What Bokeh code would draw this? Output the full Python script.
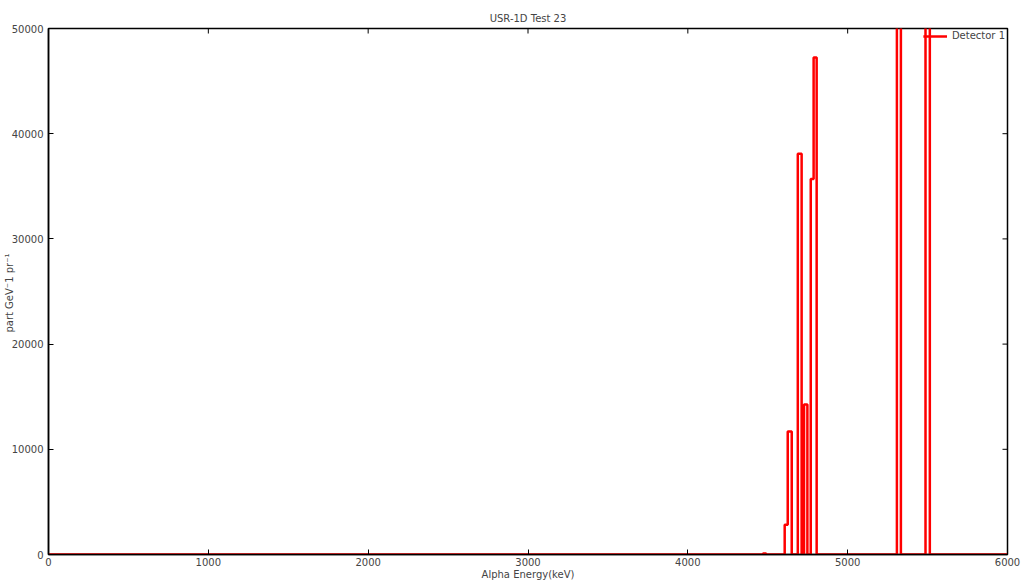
from bokeh.plotting import figure
from bokeh.models import Range1d, FixedTicker
from bokeh.embed import file_html
from bokeh.resources import INLINE

# Histogram (step) data: bin start edges (keV) and counts
bin_edges = [0, 4470, 4490, 4606, 4625, 4650, 4688, 4712, 4727, 4748, 4769, 4787, 4806,
             5308, 5333, 5487, 5514, 6000]
bin_values = [0, 100, 0, 2820, 11700, 0, 38100, 0, 14250, 0, 35700, 47250, 0,
              56000, 0, 56000, 0, 0]

x_ticks = [0, 1000, 2000, 3000, 4000, 5000, 6000]
y_ticks = [0, 10000, 20000, 30000, 40000, 50000]

title_text = "USR-1D Test 23"
x_label = "Alpha Energy(keV)"
y_label = "part GeV\u207b1  pr\u207b\u00b9"
series_name = "Detector 1"

X0, X1 = 0, 6000
Y0, Y1 = 0, 50000

FONT = "DejaVu Sans"
FS = "10px"

p = figure(width=1024, height=584, output_backend="svg", toolbar_location=None,
           x_range=Range1d(X0, X1), y_range=Range1d(Y0, Y1),
           min_border_left=47, min_border_right=17, min_border_top=28, min_border_bottom=30)

p.title.text = title_text
p.title.align = "center"
p.title.text_font = FONT
p.title.text_font_size = FS
p.title.text_font_style = "normal"
p.title.standoff = 9
p.title.offset = 0

p.step(x=bin_edges, y=bin_values, mode="after", line_color="#ff0000", line_width=2.5,
       legend_label=series_name)

p.grid.visible = False
p.outline_line_color = "black"
p.outline_line_width = 1.5

for ax in (p.xaxis[0], p.yaxis[0]):
    ax.major_tick_in = 5
    ax.major_tick_out = 0
    ax.minor_tick_in = 0
    ax.minor_tick_out = 0
    ax.axis_line_color = "black"
    ax.axis_line_width = 1.5
    ax.major_label_text_font = FONT
    ax.major_label_text_font_size = FS
    ax.axis_label_text_font = FONT
    ax.axis_label_text_font_size = FS
    ax.axis_label_text_font_style = "normal"

p.xaxis[0].ticker = FixedTicker(ticks=x_ticks)
p.yaxis[0].ticker = FixedTicker(ticks=y_ticks)
p.xaxis[0].axis_label = x_label
p.yaxis[0].axis_label = y_label
p.xaxis[0].major_label_standoff = 3
p.xaxis[0].axis_label_standoff = 0
p.yaxis[0].major_label_standoff = 5
p.yaxis[0].axis_label_standoff = -6

# mirrored inward tick marks on the top and right borders (gnuplot style)
xt_len = (X1 - X0) / 960 * 5
yt_len = (Y1 - Y0) / 526 * 5
p.segment(x0=x_ticks, x1=x_ticks, y0=[Y1] * len(x_ticks), y1=[Y1 - yt_len] * len(x_ticks),
          line_color="black", line_width=1)
p.segment(x0=[X1] * len(y_ticks), x1=[X1 - xt_len] * len(y_ticks), y0=y_ticks, y1=y_ticks,
          line_color="black", line_width=1)

p.legend.location = "top_right"
p.legend.background_fill_alpha = 0
p.legend.border_line_color = None
p.legend.label_text_font = FONT
p.legend.label_text_font_size = FS
p.legend.glyph_width = 24
p.legend.glyph_height = 10
p.legend.margin = 2
p.legend.padding = 2
p.legend.label_standoff = 5

open("out.html", "w").write(file_html(p, INLINE))
